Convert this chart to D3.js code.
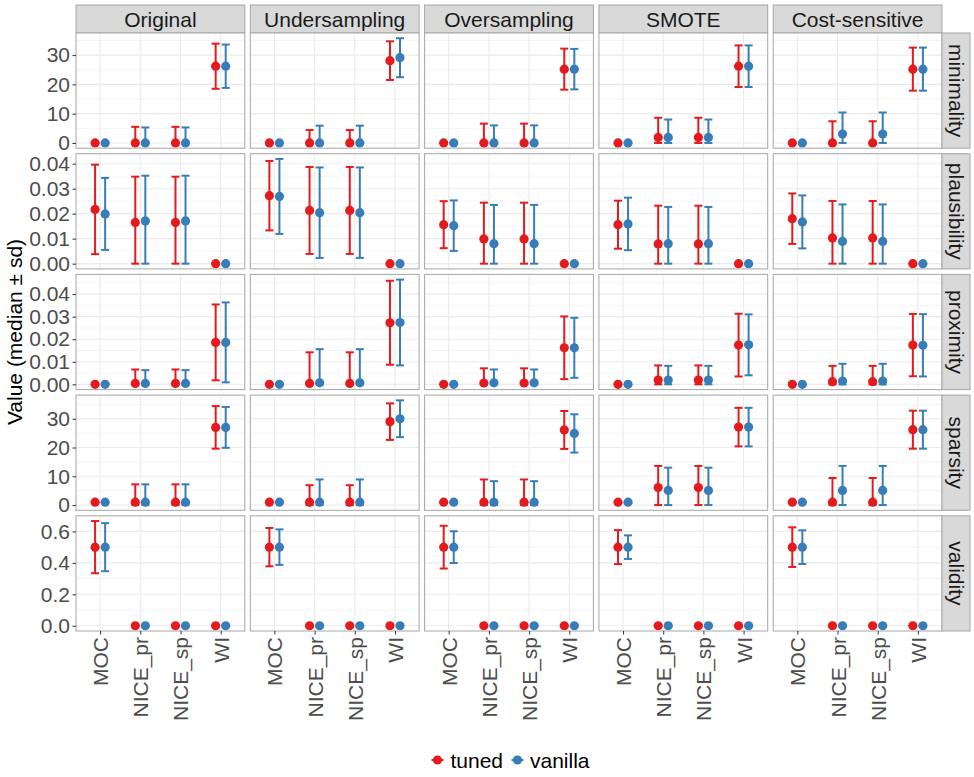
<!DOCTYPE html>
<html>
<head>
<meta charset="utf-8">
<script src="https://cdn.jsdelivr.net/npm/d3@7"></script>
<style>
  html, body { margin: 0; padding: 0; background: #ffffff; }
  svg text { font-family: "Liberation Sans", Arial, Helvetica, sans-serif; }
</style>
</head>
<body>
<svg id="chart" width="974" height="777"></svg>
<script>
// ---------------- data ----------------
const methods = ["Original", "Undersampling", "Oversampling", "SMOTE", "Cost-sensitive"];
const metrics = ["minimality", "plausibility", "proximity", "sparsity", "validity"];
const algorithms = ["MOC", "NICE_pr", "NICE_sp", "WI"];
const variants = ["tuned", "vanilla"];

// each row: one method; columns: MOC, NICE_pr, NICE_sp, WI
const minimalityTunedMedian = [[0,0,0,26.2],[0,0,0,28.1],[0,0,0,25.2],[0,1.9,1.9,26.2],[0,0,0,25.2]];
const minimalityTunedSd     = [[0,5.5,5.5,7.7],[0,4.4,4.4,6.6],[0,6.6,6.6,7.0],[0,6.7,6.7,7.1],[0,7.4,7.4,7.35]];
const minimalityVanillaMedian = [[0,0,0,26.2],[0,0,0,29.1],[0,0,0,25.2],[0,1.9,1.9,26.2],[0,3.06,3.06,25.2]];
const minimalityVanillaSd     = [[0,5.3,5.3,7.4],[0,5.9,5.9,6.65],[0,6.0,6.0,6.9],[0,6.1,6.1,7.1],[0,7.35,7.35,7.35]];

const plausibilityTunedMedian = [[0.0217,0.0165,0.0165,0],[0.0272,0.0213,0.0213,0],[0.0156,0.0099,0.0099,0],[0.0156,0.0079,0.0079,0],[0.0180,0.0103,0.0103,0]];
const plausibilityTunedSd     = [[0.0179,0.0183,0.0183,0],[0.0139,0.0174,0.0174,0],[0.0094,0.0145,0.0145,0],[0.0096,0.0153,0.0153,0],[0.0101,0.0148,0.0148,0]];
const plausibilityVanillaMedian = [[0.0199,0.0171,0.0171,0],[0.0269,0.0204,0.0204,0],[0.0152,0.0080,0.0080,0],[0.0159,0.0080,0.0080,0],[0.0167,0.0089,0.0089,0]];
const plausibilityVanillaSd     = [[0.0144,0.0181,0.0181,0],[0.0150,0.0181,0.0181,0],[0.0101,0.0155,0.0155,0],[0.0105,0.0147,0.0147,0],[0.0106,0.0148,0.0148,0]];

const proximityTunedMedian = [[0,0.0004,0.0004,0.0186],[0,0.0004,0.0004,0.0273],[0,0.0006,0.0006,0.0162],[0,0.0019,0.0019,0.0174],[0,0.0012,0.0012,0.0174]];
const proximityTunedSd     = [[0,0.0062,0.0062,0.0168],[0,0.0138,0.0138,0.0186],[0,0.0065,0.0065,0.0139],[0,0.0065,0.0065,0.0139],[0,0.0070,0.0070,0.0138]];
const proximityVanillaMedian = [[0,0.0004,0.0004,0.0186],[0,0.0007,0.0007,0.0274],[0,0.0007,0.0007,0.0162],[0,0.0019,0.0019,0.0175],[0,0.0015,0.0015,0.0173]];
const proximityVanillaSd     = [[0,0.0059,0.0059,0.0177],[0,0.0149,0.0149,0.0190],[0,0.0059,0.0059,0.0133],[0,0.0063,0.0063,0.0135],[0,0.0076,0.0076,0.0138]];

const sparsityTunedMedian = [[1,1,1,27.0],[1,1,1,29.0],[1,1,1,26.1],[1,6.1,6.1,27.1],[1,1,1,26.2]];
const sparsityTunedSd     = [[0,6.2,6.2,7.4],[0,5.9,5.9,6.35],[0,7.9,7.9,6.6],[0,7.5,7.5,6.7],[0,8.4,8.4,6.6]];
const sparsityVanillaMedian = [[1,1,1,27.0],[1,1,1,30.0],[1,1,1,24.9],[1,5.1,5.1,27.1],[1,5.1,5.1,26.2]];
const sparsityVanillaSd     = [[0,6.2,6.2,7.1],[0,7.9,7.9,6.4],[0,7.3,7.3,6.65],[0,7.9,7.9,6.7],[0,8.5,8.5,6.6]];

const validityTunedMedian = [[0.5,0,0,0],[0.5,0,0,0],[0.5,0,0,0],[0.5,0,0,0],[0.5,0,0,0]];
const validityTunedSd     = [[0.166,0,0,0],[0.122,0,0,0],[0.136,0,0,0],[0.108,0,0,0],[0.126,0,0,0]];
const validityVanillaMedian = [[0.5,0,0,0],[0.5,0,0,0],[0.5,0,0,0],[0.5,0,0,0],[0.5,0,0,0]];
const validityVanillaSd     = [[0.153,0,0,0],[0.113,0,0,0],[0.101,0,0,0],[0.075,0,0,0],[0.107,0,0,0]];

const yTicks = {
  minimality: [0, 10, 20, 30],
  plausibility: [0, 0.01, 0.02, 0.03, 0.04],
  proximity: [0, 0.01, 0.02, 0.03, 0.04],
  sparsity: [0, 10, 20, 30],
  validity: [0, 0.2, 0.4, 0.6]
};
const yTickFormat = {
  minimality: "d", plausibility: ".2f", proximity: ".2f", sparsity: "d", validity: ".1f"
};

const colors = { tuned: "#E41A1C", vanilla: "#377EB8" };

const source = {
  minimality: { tuned: [minimalityTunedMedian, minimalityTunedSd], vanilla: [minimalityVanillaMedian, minimalityVanillaSd] },
  plausibility: { tuned: [plausibilityTunedMedian, plausibilityTunedSd], vanilla: [plausibilityVanillaMedian, plausibilityVanillaSd] },
  proximity: { tuned: [proximityTunedMedian, proximityTunedSd], vanilla: [proximityVanillaMedian, proximityVanillaSd] },
  sparsity: { tuned: [sparsityTunedMedian, sparsityTunedSd], vanilla: [sparsityVanillaMedian, sparsityVanillaSd] },
  validity: { tuned: [validityTunedMedian, validityTunedSd], vanilla: [validityVanillaMedian, validityVanillaSd] }
};

// flat table
const records = [];
metrics.forEach(metric => {
  variants.forEach(v => {
    const [med, sd] = source[metric][v];
    methods.forEach((m, mi) => {
      algorithms.forEach((a, ai) => {
        const md = med[mi][ai], s = sd[mi][ai];
        records.push({ metric, method: m, algorithm: a, variant: v, median: md,
          lo: Math.max(0, md - s), hi: md + s });
      });
    });
  });
});

// ---------------- layout ----------------
const svg = d3.select("#chart");
const plotLeft = 76, plotRight = 942, stripTop = 5, stripH = 28;
const rowsTop = stripTop + stripH, rowsBottom = 631;
const gap = 5.5;
const colW = (plotRight - plotLeft - gap * (methods.length - 1)) / methods.length;
const rowH = (rowsBottom - rowsTop - gap * (metrics.length - 1)) / metrics.length;
const stripRightW = 28;

const colX = d3.scaleBand().domain(methods).range([plotLeft, plotRight]).paddingInner(gap / (colW + gap)).paddingOuter(0);
const rowY = d3.scaleBand().domain(metrics).range([rowsTop, rowsBottom]).paddingInner(gap / (rowH + gap)).paddingOuter(0);

const fontSize = 21;
const textGrey = "#4d4d4d";
const borderCol = "#a6a6a6";
const gridCol = "#ebebeb";

// y scales per metric (free rows)
const yScales = {};
metrics.forEach(metric => {
  const rs = records.filter(r => r.metric === metric);
  const lo = d3.min(rs, r => Math.min(r.lo, r.median));
  const hi = d3.max(rs, r => Math.max(r.hi, r.median));
  const pad = (hi - lo) * 0.05;
  const y0 = rowY(metric);
  yScales[metric] = d3.scaleLinear().domain([lo - pad, hi + pad]).range([y0 + rowY.bandwidth(), y0]);
});

const dodge = 0.125, capHalf = 0.1;

methods.forEach((method, mi) => {
  const x0 = colX(method), w = colX.bandwidth();
  const xs = d3.scaleLinear().domain([0.4, algorithms.length + 0.6]).range([x0, x0 + w]);
  const xPos = a => xs(algorithms.indexOf(a) + 1);

  // top strip
  svg.append("rect").attr("x", x0).attr("y", stripTop).attr("width", w).attr("height", stripH)
    .attr("fill", "#d9d9d9").attr("stroke", borderCol).attr("stroke-width", 1);
  svg.append("text").attr("x", x0 + w / 2).attr("y", stripTop + stripH / 2)
    .attr("text-anchor", "middle").attr("dominant-baseline", "central")
    .attr("font-size", fontSize).attr("fill", "#1a1a1a").text(method);

  metrics.forEach((metric, ri) => {
    const y = yScales[metric];
    const y0 = rowY(metric), h = rowY.bandwidth();
    const g = svg.append("g");
    g.append("rect").attr("x", x0).attr("y", y0).attr("width", w).attr("height", h).attr("fill", "#ffffff");

    // minor grid
    const ticks = yTicks[metric];
    const step = ticks[1] - ticks[0];
    const [d0, d1] = y.domain();
    const minor = [];
    for (let t = ticks[0] - step / 2; t <= d1; t += step) if (t >= d0) minor.push(t);
    g.selectAll(".minor").data(minor).join("line")
      .attr("x1", x0).attr("x2", x0 + w).attr("y1", d => y(d)).attr("y2", d => y(d))
      .attr("stroke", gridCol).attr("stroke-width", 0.55);
    // major grid
    g.selectAll(".major").data(ticks).join("line")
      .attr("x1", x0).attr("x2", x0 + w).attr("y1", d => y(d)).attr("y2", d => y(d))
      .attr("stroke", gridCol).attr("stroke-width", 1.1);
    g.selectAll(".vmajor").data(algorithms).join("line")
      .attr("x1", d => xPos(d)).attr("x2", d => xPos(d)).attr("y1", y0).attr("y2", y0 + h)
      .attr("stroke", gridCol).attr("stroke-width", 1.1);

    // data
    const rs = records.filter(r => r.metric === metric && r.method === method);
    const cx = r => xs(algorithms.indexOf(r.algorithm) + 1 + (r.variant === "tuned" ? -dodge : dodge));
    const bars = g.selectAll(".bar").data(rs).join("g").attr("stroke", r => colors[r.variant])
      .attr("stroke-width", 2).attr("fill", "none");
    bars.append("line").attr("x1", cx).attr("x2", cx).attr("y1", r => y(r.lo)).attr("y2", r => y(r.hi));
    bars.append("line").attr("x1", r => cx(r) - (xs(1 + capHalf) - xs(1))).attr("x2", r => cx(r) + (xs(1 + capHalf) - xs(1)))
      .attr("y1", r => y(r.lo)).attr("y2", r => y(r.lo));
    bars.append("line").attr("x1", r => cx(r) - (xs(1 + capHalf) - xs(1))).attr("x2", r => cx(r) + (xs(1 + capHalf) - xs(1)))
      .attr("y1", r => y(r.hi)).attr("y2", r => y(r.hi));
    g.selectAll(".pt").data(rs).join("circle")
      .attr("cx", cx).attr("cy", r => y(r.median)).attr("r", 4.6)
      .attr("fill", r => colors[r.variant]);

    // border
    g.append("rect").attr("x", x0).attr("y", y0).attr("width", w).attr("height", h)
      .attr("fill", "none").attr("stroke", borderCol).attr("stroke-width", 1);

    // y axis on first column
    if (mi === 0) {
      const ax = svg.append("g").attr("transform", `translate(${x0},0)`)
        .call(d3.axisLeft(y).tickValues(ticks).tickFormat(d3.format(yTickFormat[metric])).tickSize(3.5).tickPadding(2.5));
      ax.select(".domain").remove();
      ax.selectAll(".tick line").attr("stroke", "#333333").attr("stroke-width", 1);
      ax.selectAll(".tick text").attr("font-size", fontSize).attr("fill", textGrey)
        .attr("font-family", "Liberation Sans, Arial, sans-serif");
    }
    // right strips
    if (mi === methods.length - 1) {
      svg.append("rect").attr("x", plotRight).attr("y", y0).attr("width", stripRightW).attr("height", h)
        .attr("fill", "#d9d9d9").attr("stroke", borderCol).attr("stroke-width", 1);
      svg.append("text").attr("transform", `translate(${plotRight + stripRightW / 2},${y0 + h / 2}) rotate(90)`)
        .attr("text-anchor", "middle").attr("dominant-baseline", "central")
        .attr("font-size", fontSize).attr("fill", "#1a1a1a").text(metric);
    }
    // x axis bottom row
    if (ri === metrics.length - 1) {
      const xb = d3.scalePoint().domain(algorithms).range([xs(1), xs(algorithms.length)]);
      const ax = svg.append("g").attr("transform", `translate(0,${y0 + h})`)
        .call(d3.axisBottom(xb).tickSize(3.5).tickPadding(2.5));
      ax.select(".domain").remove();
      ax.selectAll(".tick line").attr("stroke", "#333333").attr("stroke-width", 1);
      ax.selectAll(".tick text").attr("font-size", fontSize).attr("fill", textGrey)
        .attr("font-family", "Liberation Sans, Arial, sans-serif")
        .attr("text-anchor", "end").attr("dy", null).attr("y", 0)
        .attr("dominant-baseline", "central")
        .attr("transform", "translate(0,6) rotate(-90)");
    }
  });
});

// y axis title
svg.append("text").attr("transform", `translate(14,${(rowsTop + rowsBottom) / 2}) rotate(-90)`)
  .attr("text-anchor", "middle").attr("dominant-baseline", "central")
  .attr("font-size", fontSize).attr("fill", "#000000").text("Value (median \u00b1 sd)");

// legend
const legendKeys = [{ v: "tuned", kx: 437.5, tx: 450.5 }, { v: "vanilla", kx: 517.5, tx: 530 }];
const ly = 760;
legendKeys.forEach(k => {
  svg.append("line").attr("x1", k.kx - 6).attr("x2", k.kx + 6).attr("y1", ly).attr("y2", ly)
    .attr("stroke", colors[k.v]).attr("stroke-width", 2);
  svg.append("circle").attr("cx", k.kx).attr("cy", ly).attr("r", 4.6).attr("fill", colors[k.v]);
  svg.append("text").attr("x", k.tx).attr("y", ly).attr("dominant-baseline", "central")
    .attr("font-size", fontSize).attr("fill", "#000000").text(k.v);
});
</script>
</body>
</html>
